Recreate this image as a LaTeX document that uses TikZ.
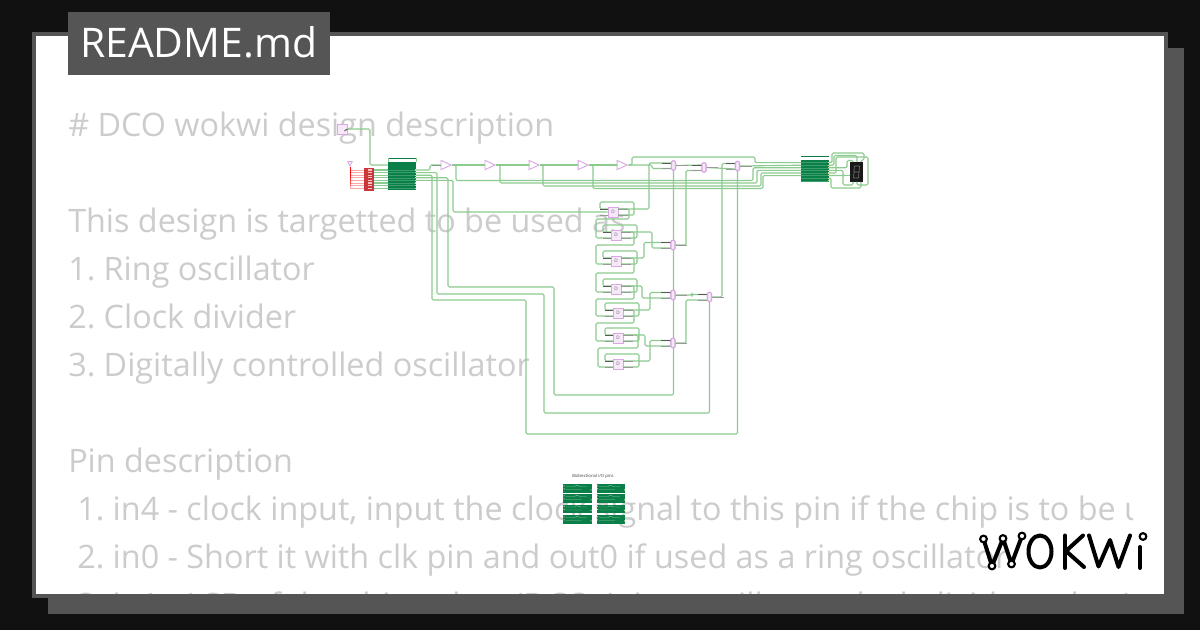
\documentclass[tikz,border=0pt]{standalone}
\usepackage{fontspec}
\setmainfont{Open Sans}
\usetikzlibrary{shapes.geometric}
\definecolor{pagedark}{HTML}{111111}
\definecolor{panelgray}{HTML}{555555}
\definecolor{bodygray}{HTML}{CCCCCC}
\definecolor{wiregreen}{HTML}{8CCB90}
\definecolor{gatepink}{HTML}{D8A8E2}
\definecolor{gatefill}{HTML}{F6E8F8}
\definecolor{pcbgreen}{HTML}{0B7F48}
\definecolor{pcbline}{HTML}{3C9C6C}
\definecolor{pcbpin}{HTML}{D8D890}
\definecolor{dipred}{HTML}{C8383C}
\tikzset{
  wire/.style={draw=wiregreen,line width=.85pt,rounded corners=1pt},
  redwire/.style={draw=red,line width=.7pt,draw opacity=.35},
  stubdark/.style={draw=black!65,line width=.7pt},
  stubgray/.style={draw=black!40,line width=.7pt},
  bodyline/.style={anchor=base west,inner sep=0pt,text=bodygray,font=\fontsize{24.25}{24}\selectfont},
  bufgate/.style={isosceles triangle,isosceles triangle stretches,draw=gatepink,fill=white,line width=.7pt,minimum width=7pt,minimum height=7.5pt,inner sep=0pt},
  muxgate/.style={rectangle,rounded corners=1pt,draw=gatepink,fill=gatefill,line width=.8pt,minimum width=3pt,minimum height=7pt,inner sep=0pt},
  ffgate/.style={rectangle,draw=gatepink,fill=gatefill,line width=.7pt,minimum width=7.5pt,minimum height=7.5pt,inner sep=0pt,text=black!60,font=\fontsize{3.5}{3.5}\selectfont},
  pcb/.style={rectangle,fill=pcbgreen,inner sep=0pt,minimum width=21pt,minimum height=21pt},
  iopcb/.style={rectangle,fill=pcbgreen,inner sep=0pt,minimum width=21.5pt,minimum height=6.4pt},
  logoline/.style={draw=black,line width=3pt,line cap=round,line join=round},
  logopad/.style={draw=black,fill=white,line width=1.6pt}
}
\begin{document}
\frenchspacing
\begin{tikzpicture}[x=.75pt,y=-.75pt]
\fill[pagedark] (0,0) rectangle (1200,630);
\useasboundingbox (0,0) rectangle (1200,630);
\fill[panelgray] (48,48) rectangle (1184,614);
\fill[panelgray] (32,32) rectangle (1168,598);
\fill[white] (36,36) rectangle (1164,594);
% readme text
\begin{scope}
\clip (36,36) rectangle (1132,594);
\node[bodyline] (line1) at (68,137) {\# DCO wokwi design description};
\node[bodyline] (line2) at (68,233) {This design is targetted to be used as};
\node[bodyline] (line3) at (68,281) {1. Ring oscillator};
\node[bodyline] (line4) at (68,329) {2. Clock divider};
\node[bodyline] (line5) at (68,377) {3. Digitally controlled oscillator};
\node[bodyline] (line6) at (68,473) {Pin description};
\node[bodyline] (line7) at (77,521) {1. in4 - clock input, input the clock signal to this pin if the chip is to be used as a clock divider};
\node[bodyline] (line8) at (77,569) {2. in0 - Short it with clk pin and out0 if used as a ring oscillator};
\node[bodyline] (line9) at (77,617) {3. in1 - LSB of the chip select (DCO / ring oscillator, clock divider select)};
\end{scope}
\fill[panelgray] (68,12) rectangle (330,75);
\node[anchor=base west,inner sep=0pt,text=white,font=\fontsize{30.6}{32}\selectfont] (title) at (80,58) {README.md};
% boards
\node[pcb] (mainboard) at (402,176) {};
\node[pcb,minimum height=16.5pt] (outboard) at (815,171) {};
\draw[pcbgreen,line width=.6pt] (388,158.5) -- (416,158.5) (801,156.5) -- (829,156.5);
\draw[wiregreen,line width=.4pt] (388,158.5) -- (388,162) (416,158.5) -- (416,162);
\foreach \i in {1,...,8}{
  \coordinate (lin\i) at (388,167.4+2.6*\i);
  \coordinate (lo\i) at (416,167.4+2.6*\i);
  \coordinate (rin\i) at (801,160+2.6*\i);
  \coordinate (ro\i) at (829,160+2.6*\i);
  \draw[pcbline,line width=.35pt] (lin\i) -- (lo\i) (rin\i) -- (ro\i);
  \fill[pcbpin] (lo\i) ++(-1.5,-.6) rectangle ++(1.5,1.2);
  \fill[pcbpin] (ro\i) ++(-1.5,-.6) rectangle ++(1.5,1.2);
}
\coordinate (lintop) at (388,165);
% inputs
\node[rectangle,draw=gatepink,fill=gatefill,line width=.7pt,minimum width=7.5pt,minimum height=7.5pt,inner sep=0pt] (inpad) at (342,129) {};
\node[isosceles triangle,shape border rotate=-90,isosceles triangle stretches,draw=gatepink,fill=gatefill,line width=.5pt,minimum width=3.5pt,minimum height=3.5pt,inner sep=0pt] (vcc) at (350,163) {};
\node[rectangle,fill=dipred,inner sep=0pt,minimum width=7.5pt,minimum height=17.5pt] (dip) at (369,179.5) {};
\foreach \i in {1,...,8}{
  \coordinate (dipw\i) at (364,167.4+2.6*\i);
  \coordinate (dipe\i) at (374,167.4+2.6*\i);
  \fill[white!75!red] (367.5,166.8+2.6*\i) rectangle (371.5,168+2.6*\i);
  \draw[redwire] (vcc.south) |- (dipw\i);
  \draw[wire,rounded corners=0pt] (dipe\i) -- (lin\i);
}
\draw[wire] (inpad.east) -| (370,165) -- (lintop);
\draw[stubdark] (inpad.east) -- ++(-3,2);
% buffers
\foreach \n/\x in {1/444,2/488,3/532,4/581,5/620}{
  \node[bufgate] (buf\n) at (\x,165) {};
  \draw[stubdark] (buf\n.west) -- ++(-9,0);
}
% muxes
\foreach \n/\x/\y in {1/673.5/165.5,2/704/167.5,3/737.5/166,4/673/245,5/673/295,6/673/343,7/709.5/297}{
  \node[muxgate] (mux\n) at (\x,\y) {};
  \coordinate (mux\n a) at (\x-2,\y-2.5);
  \coordinate (mux\n b) at (\x-2,\y+3);
  \coordinate (mux\n o) at (\x+2,\y);
}
% flip flops
\foreach \n/\x/\y in {1/613/212,2/616/235,3/616/261,4/616/289,5/618/313,6/618/338,7/618/364}{
  \node[ffgate] (ff\n) at (\x,\y) {D};
  \coordinate (ff\n d) at (\x-5,\y-3);
  \coordinate (ff\n c) at (\x-5,\y+3);
  \coordinate (ff\n q) at (\x+5,\y-3);
  \coordinate (ff\n n) at (\x+5,\y+3);
  \draw[wire] (ff\n d) -- ++(-8,0) -- ++(0,-7) -- ++(34,0) -- ++(0,13) -- (ff\n n);
}
% wires to the buffers
\draw[wire] (lo1) -| (430,165) -- (buf1.west);
\draw[wire] (buf1.east) -- (buf2.west);
\draw[wire] (buf2.east) -- (buf3.west);
\draw[wire] (buf3.east) -- (buf4.west);
\draw[wire] (buf4.east) -- (buf5.west);
\draw[wire] (buf1.east) -- (456,165) |- (753,180.5) |- (rin3);
\draw[wire] (buf2.east) -- (500,165) |- (757,183) |- (rin4);
\draw[wire] (buf3.east) -- (543,165) |- (761,186) |- (rin5);
\draw[wire] (buf4.east) -- (593,165) |- (763,188.5) |- (rin6);
\draw[wire] (buf5.east) -- (632,165) |- (755,157) |- (rin1);
\draw[wire] (buf5.east) -| (652,168.5) -- (mux1b);
% wires to the selects
\draw[wire] (lo3) -| (432,300) -| (526,434) -| (mux3.south);
\draw[wire] (lo2) -| (437,294) -| (544,413) -| (mux7.south);
\draw[wire] (lo4) -| (448,287) -| (554,395) -| (mux1.south);
\draw[wire] (lo5) -| (453,212) -- (ff1.west);
% flip flop chain
\draw[wire] (ff1q) -| (629,219) -- (596,219) |- (ff2c);
\draw[wire] (ff2q) -| (634,245) -- (596,245) |- (ff3c);
\draw[wire] (ff3q) -| (634,273) -- (596,273) |- (ff4c);
\draw[wire] (ff4q) -| (634,299) -- (596,299) |- (ff5c);
\draw[wire] (ff5q) -| (634,323) -- (596,323) |- (ff6c);
\draw[wire] (ff6q) -| (638,348) -- (598,348) |- (ff7c);
% flip flops to muxes
\draw[wire] (ff1q) -| (649,163) -- (mux1a);
\draw[wire] (ff2q) -| (652,248) -- (mux4b);
\draw[wire] (ff3q) -| (644,242.5) -- (mux4a);
\draw[wire] (ff4q) -| (642,298) -- (mux5b);
\draw[wire] (ff5q) -| (650,292.5) -- (mux5a);
\draw[wire] (ff6q) -| (645,346) -- (mux6b);
\draw[wire] (ff7q) -| (650,340.5) -- (mux6a);
% muxes to muxes
\draw[wire] (mux1o) -- (mux2a);
\draw[wire] (mux4o) -| (686,170.5) -- (mux2b);
\draw[wire] (mux5o) -- (692,295) |- (mux7a);
\draw[wire] (mux6o) -| (686,300) -- (mux7b);
\draw[wire] (mux7o) -| (722,163.5) -- (mux3a);
\draw[wire] (mux2o) -- (mux3b);
\draw[wire] (mux3o) -- (rin2);
% stubs
\foreach \n in {1,...,7}{
  \draw[stubdark] (mux\n a) -- ++(-10,0);
  \draw[stubgray] (mux\n b) -- ++(-10,0);
  \draw[stubgray] (mux\n o) -- ++(12,0);
}
\foreach \n in {1,...,7}{
  \draw[stubdark] (ff\n d) -- ++(-8,0);
  \draw[stubgray] (ff\n c) -- ++(-8,0);
  \draw[stubgray] (ff\n q) -- ++(10,0);
  \draw[stubgray] (ff\n n) -- ++(10,0);
}
\foreach \n in {1,...,7}{
  \node[muxgate] at (mux\n) {};
}
% display
\node[rectangle,fill=black!90,inner sep=0pt,minimum width=9.8pt,minimum height=15pt] (seg) at (856.5,172) {};
\draw[black!55,line width=.5pt,rounded corners=.3pt] (854,170) -- (854.5,166) -- (859.5,166) -- (859,172) -- (858.5,178) -- (853.5,178) -- (854,172) -- cycle (854,172) -- (859,172);
\coordinate (sa) at (853,162);
\coordinate (sb) at (857,162);
\coordinate (sc) at (861,162);
\coordinate (sd) at (853,182);
\coordinate (se) at (857,182);
\coordinate (sf) at (861,182);
\coordinate (sg) at (850,175.4);
\draw[wire] (ro1) -| (832,153) -- (864,153) -- (864,160) -| (sc);
\draw[wire] (ro2) -| (834,155.5) -| (sb);
\draw[wire] (ro3) -| (847,160.5) -| (sa);
\draw[wire] (ro4) -| (843,185) -| (sd);
\draw[wire] (ro5) -| (836,157) -| (868,185) -| (se);
\draw[wire] (ro6) -- (sg);
\draw[wire] (ro7) -| (831,188) -| (sf);
% io boards
\node[font=\fontsize{3.2}{3.2}\selectfont,text=black!75,inner sep=0pt] (iolabel) at (593,476) {Bidirectional I/O pins};
\foreach \c/\x in {1/577.5,2/611}{
  \foreach \r/\y in {1/488.5,2/498.5,3/509,4/519.5}{
    \node[iopcb] (io\c\r) at (\x,\y) {};
    \draw[pcbline!60!white,line width=.3pt] (\x-12,\y-2) -- (\x-3,\y-2) -- (\x-1,\y-3.2) -- (\x+3,\y-2) -- (\x+9,\y-2) (\x-12,\y+1) -- (\x+4,\y+1);
    \fill[pcbpin] (\x-14,\y-3) rectangle (\x-13,\y-2) (\x-14,\y) rectangle (\x-13,\y+1) (\x+13,\y+1) rectangle (\x+14,\y+2);
  }
}
% logo
\draw[logoline] (983.5,539) -- (992,566) -- (1003,538.5) -- (1011.5,564) -- (1022,536);
\foreach \n/\x/\y in {1/983.5/539,2/1003/538.5,3/1022/536,4/992/566,5/1011.5/564}{
  \node[circle,logopad,minimum size=5pt,inner sep=0pt] (pad\n) at (\x,\y) {};
}
\draw[logoline] (1040,551.5) ellipse (11.5 and 16);
\draw[logoline] (1065,535.5) -- (1065,568);
\draw[logoline] (1083,535.5) -- (1066,551) -- (1084,567);
\draw[logoline] (1089,535.5) -- (1098.5,566.5) -- (1110,540) -- (1118.5,567) -- (1130,535.5);
\draw[logoline] (1140,547) -- (1140,568);
\node[circle,logopad,minimum size=5pt,inner sep=0pt] (padi) at (1143,536.5) {};
\end{tikzpicture}
\end{document}
